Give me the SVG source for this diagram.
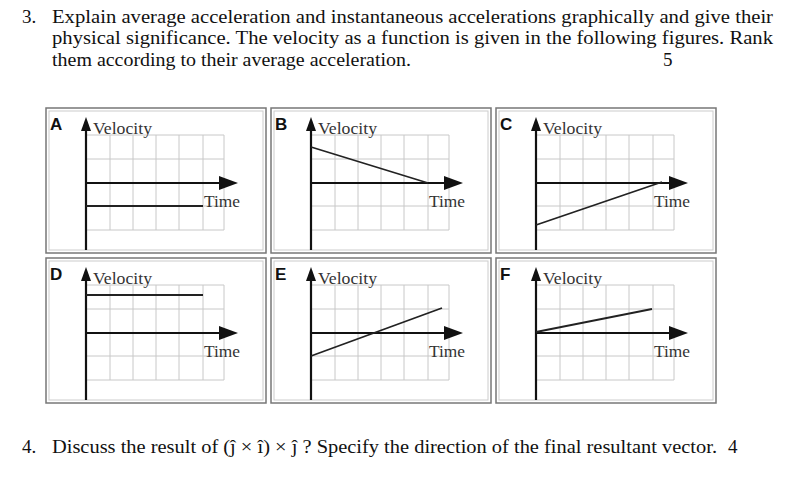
<svg xmlns="http://www.w3.org/2000/svg" width="793" height="481" viewBox="0 0 793 481">
<style>
.t{font-family:"Liberation Serif",serif;font-size:19px;fill:#111}
.box{fill:#fff;stroke:#777;stroke-width:1.5}
.inner{fill:none;stroke:#ccc;stroke-width:1}
.grid{stroke:#c8c8c8;stroke-width:1;fill:none}
.ax{stroke:#111;stroke-width:2.2;fill:none}
.ln{stroke:#222;stroke-width:1.8;fill:none}
.lab{font-family:"Liberation Serif",serif;font-size:16px;fill:#333}
.let{font-family:"Liberation Sans",sans-serif;font-weight:bold;font-size:17px;fill:#111}
</style>
<defs>
<g id="panel">
<rect class="box" x="46" y="108" width="220" height="145"/>
<rect class="inner" x="49" y="111" width="214" height="139"/>
<path class="grid" d="M86 135H224M86 159H224M86 206H224M86 230H224M110 135V230M133 135V230M156 135V230M179 135V230M203 135V230M224 135V230"/>
<path class="ax" d="M86 250V128M86 183H222"/>
<polygon points="86,117 81,131 91,131" fill="#111"/>
<polygon points="238,183 219,176 219,190" fill="#111"/>
<text class="lab" x="93" y="134" textLength="59" lengthAdjust="spacingAndGlyphs">Velocity</text>
<text class="lab" x="204" y="207" textLength="36" lengthAdjust="spacingAndGlyphs">Time</text>
</g>
</defs>
<text class="t" x="22" y="23">3.</text>
<text class="t" x="52" y="23" textLength="721" lengthAdjust="spacingAndGlyphs">Explain average acceleration and instantaneous accelerations graphically and give their</text>
<text class="t" x="52" y="44" textLength="721" lengthAdjust="spacingAndGlyphs">physical significance. The velocity as a function is given in the following figures. Rank</text>
<text class="t" x="52" y="66" textLength="359" lengthAdjust="spacingAndGlyphs">them according to their average acceleration.</text>
<text class="t" x="663" y="66">5</text>
<g id="A"><use href="#panel"/><text class="let" x="50" y="130">A</text><path class="ln" d="M86 206H203"/></g>
<g id="B" transform="translate(225,0)"><use href="#panel"/><text class="let" x="50" y="130">B</text><path class="ln" d="M86 147L203 183"/></g>
<g id="C" transform="translate(450,0)"><use href="#panel"/><text class="let" x="50" y="130">C</text><path class="ln" d="M86 225L212 182"/></g>
<g id="D" transform="translate(0,150)"><use href="#panel"/><text class="let" x="50" y="130">D</text><path class="ln" d="M86 145H203"/></g>
<g id="E" transform="translate(225,150)"><use href="#panel"/><text class="let" x="50" y="130">E</text><path class="ln" d="M86 206L217 158"/></g>
<g id="F" transform="translate(450,150)"><use href="#panel"/><text class="let" x="50" y="130">F</text><path class="ln" d="M86 182L202 159"/></g>
<text class="t" x="22" y="453">4.</text>
<text class="t" x="52" y="453" textLength="665" lengthAdjust="spacingAndGlyphs">Discuss the result of (ĵ × î) × ĵ ? Specify the direction of the final resultant vector.</text>
<text class="t" x="728" y="453">4</text>
</svg>
